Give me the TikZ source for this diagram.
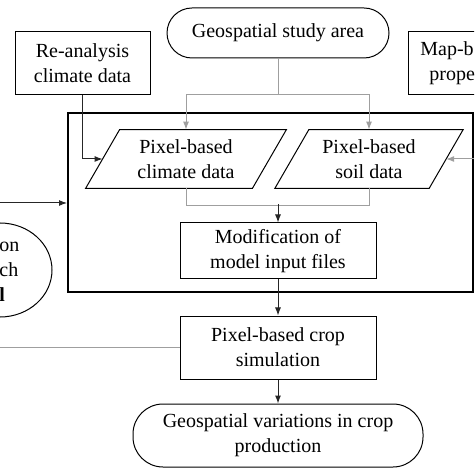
\documentclass[tikz,border=0pt]{standalone}
\usepackage{fontspec}
\setmainfont{Liberation Serif}
\usetikzlibrary{positioning, arrows.meta, shapes.geometric}
\tikzset{
    >={Latex[length=4pt,width=3pt]}, % small filled heads
    box/.style={draw, line width=0.5pt, align=center, inner sep=0pt},
    term/.style={box, rounded corners=12.5pt}, % start / end of the flow
    io/.style={align=center, inner sep=0pt, minimum height=29pt,
        append after command={\pgfextra{\draw[line width=0.5pt]
            ([xshift=8.5pt]\tikzlastnode.north west) -- ([xshift=8.5pt]\tikzlastnode.north east)
            -- ([xshift=-8.5pt]\tikzlastnode.south east) -- ([xshift=-8.5pt]\tikzlastnode.south west) -- cycle;}}},
    flow/.style={->, line width=0.5pt, black!85},
    link/.style={->, line width=0.5pt, gray!75},
}

\begin{document}
\begin{tikzpicture}[x=0.5pt, y=-0.5pt, on grid, font=\fontsize{10}{12.5}\selectfont]
    \clip (0,0) rectangle (474,474);

    \node[term, minimum width=111pt, minimum height=25pt] (g) at (278,33) {Geospatial study area};
    \node[box, minimum width=67.5pt, minimum height=31.5pt] (r) at (82.5,63.5) {Re-analysis\\climate data};
    \node[box, minimum width=67.5pt, minimum height=31.5pt] (m) at (475.5,63.5) {};
    \node[anchor=west, align=left, inner sep=0pt] (mt) at (420,63.5) {Map-b\\\hspace*{4.5pt}prope};

    \node[draw, line width=1pt, minimum width=202.5pt, minimum height=89.5pt] (f) at (270.5,202.5) {};
    \node[io, minimum width=83pt] (cl) at (186,159) {Pixel-based\\climate data};
    \node[io, minimum width=76.75pt] (so) at (369,159) {Pixel-based\\soil data};
    \node[box, minimum width=98pt, minimum height=28pt, below=109pt of g] (mo) {Modification of\\model input files};
    \node[box, minimum width=98pt, minimum height=31.5pt, below=48.25pt of mo] (cs) {Pixel-based crop\\simulation};
    \node[term, rounded corners=15pt, minimum width=145pt, minimum height=31.5pt, below=44pt of cs] (v) {Geospatial variations in crop\\production};

    \node[draw, ellipse, line width=0.5pt, minimum width=52pt, minimum height=47pt] (e) at (0,270) {};
    \node[anchor=west, align=left, inner sep=0pt] (et) at (-1,272) {on\\ch\\\textbf{l}};

    \coordinate (lin) at (0,203);
    \coordinate (lc) at (0,347.5);
    \coordinate (rin) at (474,159);

    \draw[link] (g.south) -- ++(0,36) -| (cl.north);
    \draw[link] (g.south) -- ++(0,36) -| (so.north);
    \draw[flow] (r.south) |- (cl.west);
    \draw[link] (rin) -- (so.east);
    \draw[flow] (lin) -- (lin -| f.west);
    \draw[link, -] (cl.south) -- ++(0,17) -| (so.south);
    \draw[flow] ([yshift=9pt]mo.north) -- (mo.north);
    \draw[flow] (mo) -- (cs);
    \draw[link, -] (lc) -- (cs.west);
    \draw[flow] (cs) -- (v);
\end{tikzpicture}
\end{document}
